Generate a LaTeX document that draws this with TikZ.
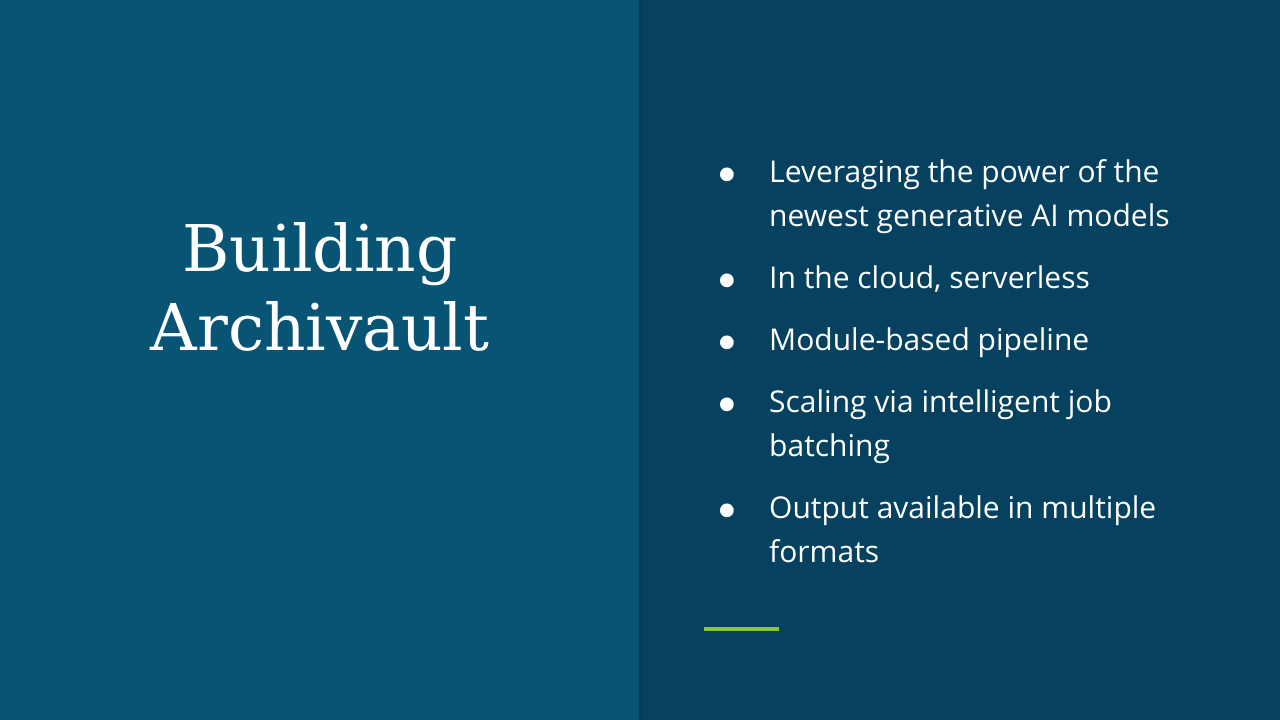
\documentclass[tikz,border=0pt]{standalone}
\usepackage{fontspec}
\setmainfont{Open Sans}
\newfontfamily\titlefont{DejaVu Serif}
\newfontfamily\bulletfont{DejaVu Sans}
\definecolor{leftbg}{HTML}{085475}
\definecolor{rightbg}{HTML}{06425F}
\definecolor{accent}{HTML}{8BC34A}
\begin{document}
\begin{tikzpicture}[x=1pt,y=-1pt,
  title/.style={text=white,font=\titlefont\fontsize{64.5}{72}\selectfont,anchor=base,inner sep=0},
  line/.style={text=white,font=\fontsize{30}{34}\selectfont,anchor=base west,inner sep=0},
  dot/.style={text=white,font=\bulletfont\fontsize{18}{20}\selectfont,anchor=base,inner sep=0}]
\useasboundingbox (0,0) rectangle (1280,720);
\fill[leftbg] (0,0) rectangle (640,720);
\fill[rightbg] (640,0) rectangle (1280,720);
\draw[rightbg!85!black,line width=1.5] (640,0) -- (640,720);
\node[title] (t1) at (320,271) {Building};
\node[title] (t2) at (320,350) {Archivault};
\node[dot] (d1) at (727,179) {●};
\node[line] (l1a) at (769,182) {Leveraging the power of the};
\node[line] (l1b) at (769,226) {newest generative AI models};
\node[dot] (d2) at (727,285) {●};
\node[line] (l2) at (769,288) {In the cloud, serverless};
\node[dot] (d3) at (727,347) {●};
\node[line] (l3) at (769,350) {Module-based pipeline};
\node[dot] (d4) at (727,409) {●};
\node[line] (l4a) at (769,412) {Scaling via intelligent job};
\node[line] (l4b) at (769,456) {batching};
\node[dot] (d5) at (727,515) {●};
\node[line] (l5a) at (769,518) {Output available in multiple};
\node[line] (l5b) at (769,562) {formats};
\fill[accent] (704,627) rectangle (779,631);
\end{tikzpicture}
\end{document}
